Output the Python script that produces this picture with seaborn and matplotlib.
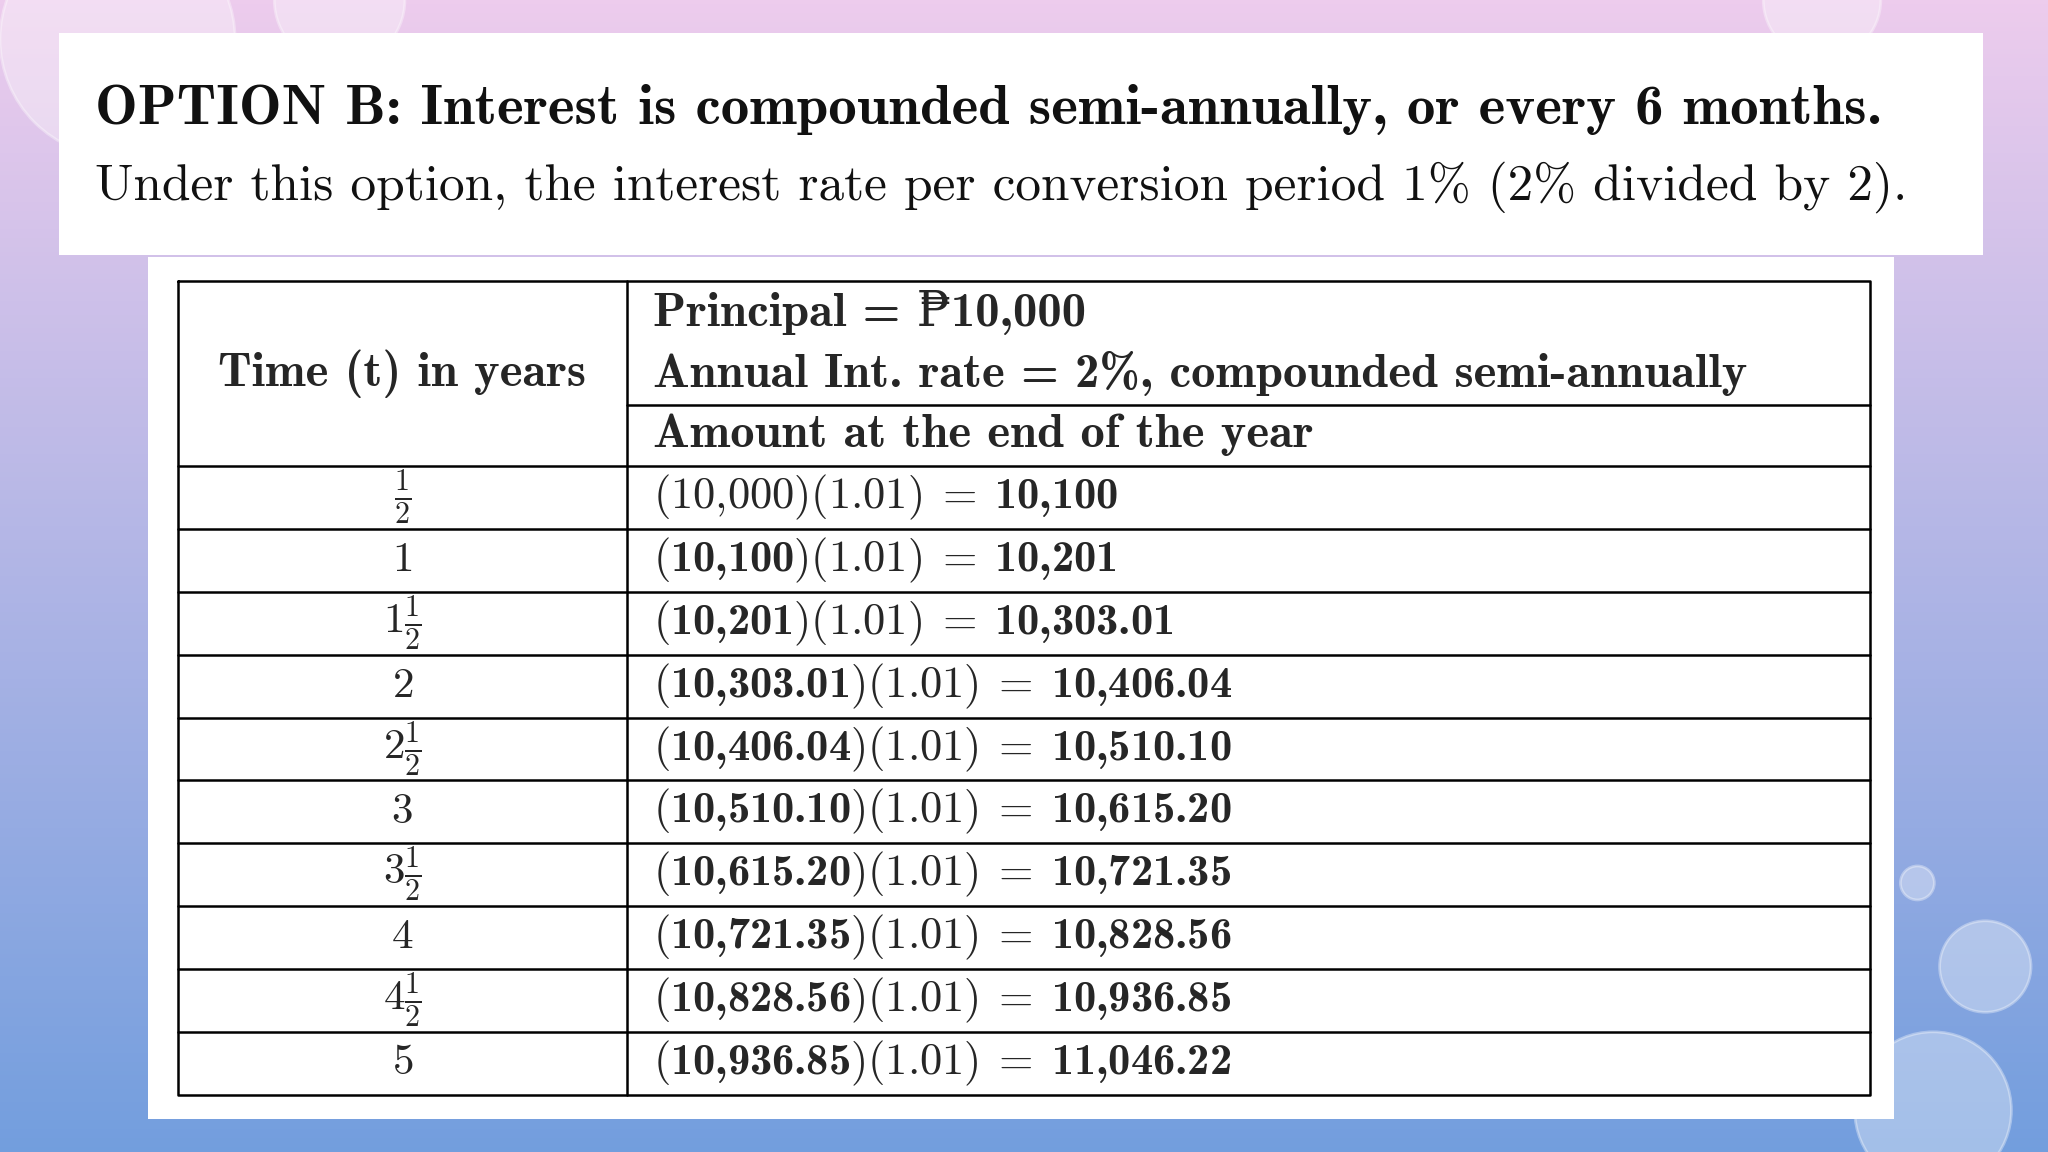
import numpy as np
import matplotlib
matplotlib.use("Agg")
import matplotlib.pyplot as plt
import seaborn as sns
from matplotlib.patches import Rectangle, Circle

sns.set_theme(style="white")
plt.rcParams['font.family'] = ['cmr10', 'DejaVu Serif']
plt.rcParams['mathtext.fontset'] = 'custom'
plt.rcParams['mathtext.rm'] = 'cmr10'
plt.rcParams['mathtext.bf'] = 'cmb10'
plt.rcParams['mathtext.it'] = 'cmr10'
plt.rcParams['axes.unicode_minus'] = False

title_line1 = "OPTION B: Interest is compounded semi-annually, or every 6 months."
title_line2 = "Under this option, the interest rate per conversion period 1% (2% divided by 2)."
header_left = "Time (t) in years"
header_r1 = "Principal = ₱10,000"
header_r2 = "Annual Int. rate = 2%, compounded semi-annually"
header_r3 = "Amount at the end of the year"
times = [r"$\frac{1}{2}$", r"$1$", r"$1\frac{1}{2}$", r"$2$", r"$2\frac{1}{2}$",
         r"$3$", r"$3\frac{1}{2}$", r"$4$", r"$4\frac{1}{2}$", r"$5$"]
prev_amounts = ["10,000", "10,100", "10,201", "10,303.01", "10,406.04",
                "10,510.10", "10,615.20", "10,721.35", "10,828.56", "10,936.85"]
new_amounts = ["10,100", "10,201", "10,303.01", "10,406.04", "10,510.10",
               "10,615.20", "10,721.35", "10,828.56", "10,936.85", "11,046.22"]
rate = "1.01"

W, H = 1568, 882
fig = plt.figure(figsize=(20.48, 11.52), dpi=100)
ax = fig.add_axes([0, 0, 1, 1])
ax.set_xlim(0, W); ax.set_ylim(H, 0); ax.axis('off')

top = np.array([0.93, 0.80, 0.93]); bot = np.array([0.45, 0.62, 0.87])
t = np.linspace(0, 1, 256)[:, None, None]
grad = np.repeat(top * (1 - t) + bot * t, 4, axis=1)
ax.imshow(grad, extent=[0, W, H, 0], aspect='auto', zorder=0)
for (cx, cy, r) in [(90, 30, 90), (1395, 0, 45), (1520, 740, 35), (1468, 676, 13),
                    (1480, 850, 60), (260, 0, 50)]:
    ax.add_patch(Circle((cx, cy), r, facecolor='white', alpha=0.35, edgecolor='white', lw=2, zorder=1))

ax.add_patch(Rectangle((45, 25), 1473, 170, facecolor='white', edgecolor='none', zorder=2))
ax.add_patch(Rectangle((113, 197), 1337, 660, facecolor='white', edgecolor='none', zorder=2))
ax.text(73, 84, title_line1, fontsize=41, va='center', ha='left', zorder=3, color='#111111',
        family=['cmb10', 'DejaVu Serif'])
ax.text(73, 143, title_line2, fontsize=37, va='center', ha='left', zorder=3, color='#111111',
        family=['cmr10', 'DejaVu Serif'])

L, M, R, T, B = 136, 480, 1432, 215, 838
lw = 1.8
ax.plot([L, R, R, L, L], [T, T, B, B, T], color='black', lw=lw, zorder=3)
ax.plot([M, M], [T, B], color='black', lw=lw, zorder=3)
ax.plot([M, R], [310, 310], color='black', lw=lw, zorder=3)
row_tops = np.linspace(357, B, 11)
for y in row_tops[:-1]:
    ax.plot([L, R], [y, y], color='black', lw=lw, zorder=3)

fs = 32
hfs = 35
bold = ['cmb10', 'DejaVu Serif']
ax.text((L + M) / 2, 286, header_left, fontsize=hfs, family=bold, ha='center', va='center', zorder=3)
ax.text(500, 239, header_r1, fontsize=hfs, family=bold, ha='left', va='center', zorder=3)
ax.text(500, 286, header_r2, fontsize=hfs, family=bold, ha='left', va='center', zorder=3)
ax.text(500, 333, header_r3, fontsize=hfs, family=bold, ha='left', va='center', zorder=3)

for i in range(10):
    yc = (row_tops[i] + row_tops[i + 1]) / 2
    ax.text((L + M) / 2, yc, times[i], fontsize=31, ha='center', va='center', zorder=3)
    p = prev_amounts[i].replace(",", "{,}")
    n = new_amounts[i].replace(",", "{,}")
    pm = r"\mathrm{" + p + "}" if i == 0 else r"\mathbf{" + p + "}"
    expr = r"$(" + pm + r")(\mathrm{" + rate + r"})\;=\;\mathbf{" + n + "}$"
    ax.text(500, yc, expr, fontsize=fs, ha='left', va='center', zorder=3)

fig.savefig("out.png", dpi=100)
